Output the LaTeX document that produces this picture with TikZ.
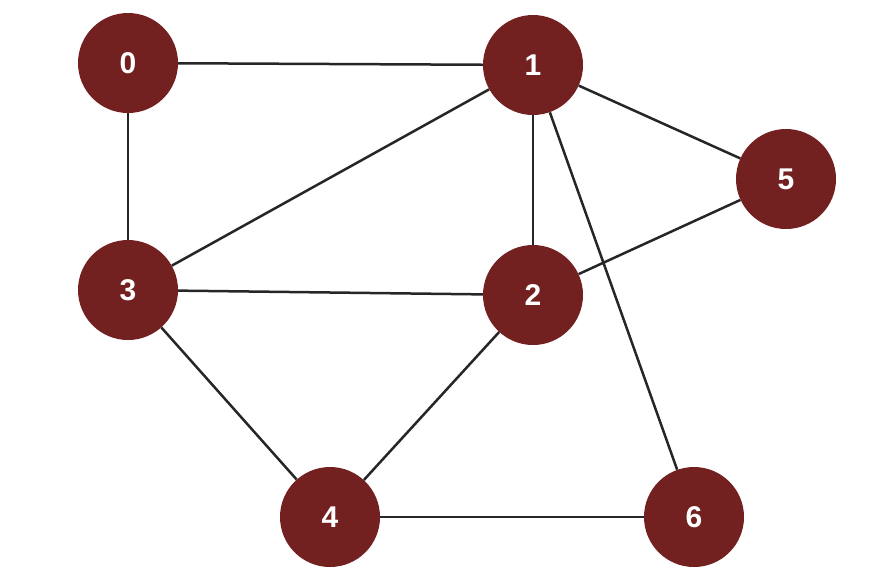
\documentclass[tikz,border=0pt]{standalone}
\usepackage{fontspec}
\setmainfont{Liberation Sans}
\definecolor{nodered}{HTML}{732020}
\begin{document}
\begin{tikzpicture}[x=1pt,y=-1pt,
  vtx/.style={circle,fill=nodered,minimum size=100pt,inner sep=0pt,text=white,font=\fontsize{30}{30}\selectfont\bfseries},
  edge/.style={line width=2.5pt,black!85}]
\useasboundingbox (0,0) rectangle (882,582);
\node[vtx] (n0) at (128,63) {0};
\node[vtx] (n1) at (533,65) {1};
\node[vtx] (n5) at (786,179) {5};
\node[vtx] (n3) at (128,290) {3};
\node[vtx] (n2) at (533,295) {2};
\node[vtx] (n4) at (330,517) {4};
\node[vtx] (n6) at (694,517) {6};
\begin{scope}[on background layer/.style={}]
\end{scope}
\foreach \a/\b in {n0/n1,n0/n3,n1/n3,n1/n2,n1/n5,n1/n6,n5/n2,n3/n2,n3/n4,n2/n4,n4/n6}
  \draw[edge] (\a) -- (\b);
\end{tikzpicture}
\end{document}
